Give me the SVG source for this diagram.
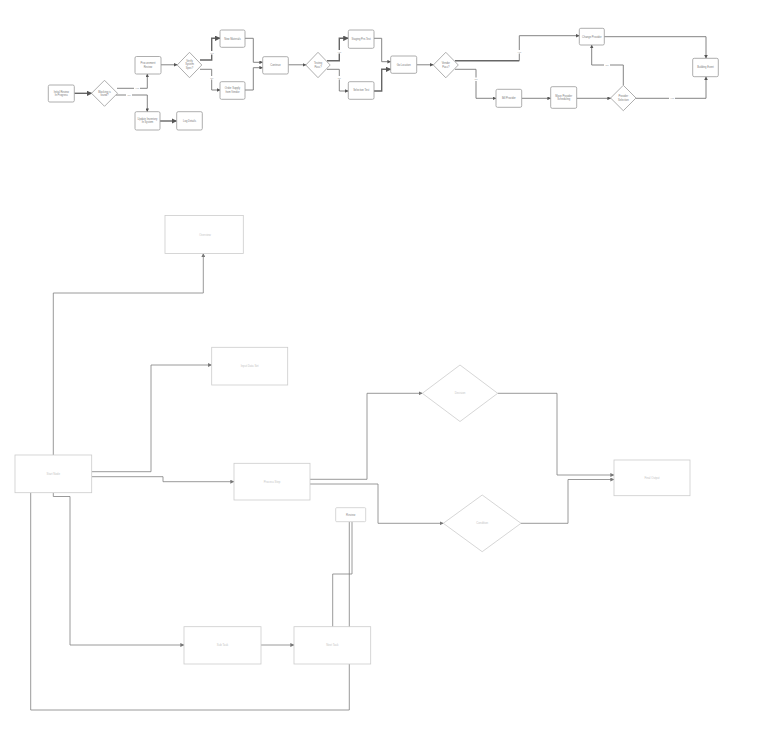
<svg xmlns="http://www.w3.org/2000/svg" width="768" height="736" viewBox="0 0 768 736">
<defs>
<marker id="a" viewBox="0 0 6 6" refX="5.5" refY="3" markerWidth="4" markerHeight="4" orient="auto"><path d="M0,0 L6,3 L0,6 z" fill="#555"/></marker>
<marker id="b" viewBox="0 0 6 6" refX="5.5" refY="3" markerWidth="5" markerHeight="5" orient="auto"><path d="M0,0 L6,3 L0,6 z" fill="#777"/></marker>
<style>
.n{fill:#fff;stroke:#999;stroke-width:0.8}
.t{font-family:"Liberation Sans",Arial,sans-serif;font-size:2.6px;fill:#777;text-anchor:middle}
.c{fill:none;stroke:#777;stroke-width:0.9}
.ck{fill:none;stroke:#666;stroke-width:1.4}
.el{font-family:"Liberation Sans",Arial,sans-serif;font-size:2.4px;fill:#999;text-anchor:middle}
.m{fill:#fff;stroke:#ccc;stroke-width:0.8}
.mt{font-family:"Liberation Sans",Arial,sans-serif;font-size:2.8px;fill:#c4c4c4;text-anchor:middle}
.mc{fill:none;stroke:#808080;stroke-width:0.8}
</style>
</defs>
<rect width="768" height="736" fill="#fff"/>

<g id="connectors">
<path class="ck" d="M74.3,93.3 H91.7" marker-end="url(#a)"/>
<path class="c" d="M117,88.3 H147.3 V74" marker-end="url(#a)"/>
<path class="c" d="M116,95 H147.3 V111.7" marker-end="url(#a)"/>
<path class="ck" d="M160,121 H176.7" marker-end="url(#a)"/>
<path class="c" d="M161,64.8 H177.3" marker-end="url(#a)"/>
<path class="ck" d="M200,60 H211.7 V38.3 H220" marker-end="url(#a)"/>
<path class="c" d="M200,69.3 H211.7 V90 H220" marker-end="url(#a)"/>
<path class="c" d="M245,38.3 H253.3 V62.3 H262.7" marker-end="url(#a)"/>
<path class="c" d="M245,90 H253.3 V67.7 H262.7" marker-end="url(#a)"/>
<path class="c" d="M288.3,64.8 H306" marker-end="url(#a)"/>
<path class="ck" d="M327,60.7 H339.3 V38.3 H348.3" marker-end="url(#a)"/>
<path class="c" d="M327,69.3 H339.3 V91 H348.3" marker-end="url(#a)"/>
<path class="c" d="M374,38.3 H381.7 V61.7 H390.7" marker-end="url(#a)"/>
<path class="ck" d="M374,91 H381.7 V69.3 H390.7" marker-end="url(#a)"/>
<path class="c" d="M416.7,64.8 H433.3" marker-end="url(#a)"/>
<path class="ck" d="M455,60.7 H519.3"/>
<path class="c" d="M519.3,60.7 V35.7 H579.3" marker-end="url(#a)"/>
<path class="c" d="M455,69.3 H476 V98.3 H496" marker-end="url(#a)"/>
<path class="c" d="M521.7,98.3 H550.7" marker-end="url(#a)"/>
<path class="c" d="M576.7,98.3 H610.7" marker-end="url(#a)"/>
<path class="c" d="M623.3,85 V65 H591.7 V45" marker-end="url(#a)"/>
<path class="c" d="M604,36.7 H706 V58.3" marker-end="url(#a)"/>
<path class="c" d="M636,98.3 H706 V76.7" marker-end="url(#a)"/>
<g>
<rect x="134" y="86" width="6" height="3.5" fill="#fff"/><text class="el" x="137" y="88.8">Yes</text>
<rect x="126" y="93.5" width="6" height="3.5" fill="#fff"/><text class="el" x="129" y="96.3">No</text>
<rect x="209" y="51" width="6" height="3.5" fill="#fff"/><text class="el" x="211.7" y="53.8">Yes</text>
<rect x="209" y="76" width="6" height="3.5" fill="#fff"/><text class="el" x="211.7" y="78.8">No</text>
<rect x="336.5" y="50" width="6" height="3.5" fill="#fff"/><text class="el" x="339.3" y="52.8">Yes</text>
<rect x="336.5" y="76" width="6" height="3.5" fill="#fff"/><text class="el" x="339.3" y="78.8">No</text>
<rect x="516.5" y="50" width="6" height="3.5" fill="#fff"/><text class="el" x="519.3" y="52.8">Yes</text>
<rect x="473" y="77.5" width="6" height="3.5" fill="#fff"/><text class="el" x="476" y="80.3">No</text>
<rect x="604" y="63.3" width="6" height="3.5" fill="#fff"/><text class="el" x="607" y="66.1">No</text>
<rect x="669" y="96.6" width="6" height="3.5" fill="#fff"/><text class="el" x="672" y="99.4">Yes</text>
</g>
<path class="mc" d="M53.3,455 V293 H203.3 V253.5" marker-end="url(#b)"/>
<path class="mc" d="M91.7,471.7 H151 V365 H211.7" marker-end="url(#b)"/>
<path class="mc" d="M91.7,476.7 H163 V481.7 H234" marker-end="url(#b)"/>
<path class="mc" d="M310,479.3 H367 V393.3 H422.3" marker-end="url(#b)"/>
<path class="mc" d="M310,484 H378 V523.3 H443.3" marker-end="url(#b)"/>
<path class="mc" d="M497.7,393.3 H557 V475 H614" marker-end="url(#b)"/>
<path class="mc" d="M521,523.3 H568 V479.5 H614" marker-end="url(#b)"/>
<path class="mc" d="M53.3,492.7 V496.5 H70 V645 H184" marker-end="url(#b)"/>
<path class="mc" d="M261,645 H294" marker-end="url(#b)"/>
<path class="mc" d="M332.7,626.7 V574 H352 V521.7"/>
<path class="mc" d="M30.7,492.7 V710 H349.3 V521.7"/>
</g>

<g id="n1"><rect class="n" x="48.3" y="85" width="26" height="17" rx="1.5"/><text class="t" x="61.3" y="92.5">Initial Review</text><text class="t" x="61.3" y="96.3">In Progress</text></g>
<g id="n2"><polygon class="n" points="104.5,80.3 117.5,93.3 104.5,106.3 91.5,93.3"/><text class="t" x="104.5" y="92.5">Blocking is</text><text class="t" x="104.5" y="96.3">found?</text></g>
<g id="n3"><rect class="n" x="135" y="56.5" width="26" height="17.5" rx="1.5"/><text class="t" x="148" y="64">Procurement</text><text class="t" x="148" y="67.8">Review</text></g>
<g id="n4"><rect class="n" x="135" y="111.7" width="25" height="18.3" rx="1.5"/><text class="t" x="147.5" y="119.5">Update Inventory</text><text class="t" x="147.5" y="123.3">In System</text></g>
<g id="n5"><rect class="n" x="176.7" y="111.7" width="25.6" height="18.3" rx="1.5"/><text class="t" x="189.5" y="121.8">Log Details</text></g>
<g id="n6"><polygon class="n" points="189.5,52.3 201.8,65 189.5,77.7 177.2,65"/><text class="t" x="189.5" y="61.6">Verify</text><text class="t" x="189.5" y="65.2">System</text><text class="t" x="189.5" y="68.8">Spec?</text></g>
<g id="n7"><rect class="n" x="220" y="30" width="25" height="17.3" rx="1.5"/><text class="t" x="232.5" y="39.6">New Materials</text></g>
<g id="n8"><rect class="n" x="220" y="81.7" width="25" height="17.6" rx="1.5"/><text class="t" x="232.5" y="89.3">Order Supply</text><text class="t" x="232.5" y="93.1">from Vendor</text></g>
<g id="n9"><rect class="n" x="262.7" y="56.7" width="25.6" height="17.3" rx="1.5"/><text class="t" x="275.5" y="66.2">Continue</text></g>
<g id="n10"><polygon class="n" points="318,52.3 330.2,65 318,77.7 305.8,65"/><text class="t" x="318" y="64">Testing</text><text class="t" x="318" y="67.8">Pass?</text></g>
<g id="n11"><rect class="n" x="348.3" y="30" width="25.7" height="18.3" rx="1.5"/><text class="t" x="361.2" y="40.1">Staging Pre-Test</text></g>
<g id="n12"><rect class="n" x="348.3" y="81.7" width="25.7" height="17.6" rx="1.5"/><text class="t" x="361.2" y="91.4">Selection Test</text></g>
<g id="n13"><rect class="n" x="390.7" y="56" width="26" height="17.3" rx="1.5"/><text class="t" x="403.7" y="65.6">Go Location</text></g>
<g id="n14"><polygon class="n" points="445.8,52.3 458.3,65 445.8,77.8 433.3,65"/><text class="t" x="445.8" y="64">Vendor</text><text class="t" x="445.8" y="67.8">Pass?</text></g>
<g id="n15"><rect class="n" x="579.3" y="28.3" width="25" height="16.7" rx="1.5"/><text class="t" x="591.8" y="37.5">Change Provider</text></g>
<g id="n16"><rect class="n" x="496" y="89.3" width="25.7" height="18" rx="1.5"/><text class="t" x="508.8" y="99.2">Bill Provider</text></g>
<g id="n17"><rect class="n" x="550.7" y="86.7" width="26" height="21.6" rx="1.5"/><text class="t" x="563.7" y="96.5">Move Provider</text><text class="t" x="563.7" y="100.3">Scheduling</text></g>
<g id="n18"><polygon class="n" points="623.3,85.3 636,98 623.3,110.7 610.6,98"/><text class="t" x="623.3" y="97">Provider</text><text class="t" x="623.3" y="100.8">Selection</text></g>
<g id="n19"><rect class="n" x="692.7" y="58.3" width="25.6" height="18.4" rx="1.5"/><text class="t" x="705.5" y="68.3">Building Event</text></g>

<g id="m1"><rect class="m" x="165" y="215.5" width="78.3" height="38"/><text class="mt" x="205" y="235.5">Overview</text></g>
<g id="m2"><rect class="m" x="15" y="455" width="76.7" height="37.7"/><text class="mt" x="53.3" y="474.8">Start Node</text></g>
<g id="m3"><rect class="m" x="211.7" y="347.3" width="76" height="37.7"/><text class="mt" x="249.7" y="367">Input Data Set</text></g>
<g id="m4"><rect class="m" x="234" y="463.3" width="76" height="36.7"/><text class="mt" x="272" y="482.5">Process Step</text></g>
<g id="m5"><polygon class="m" points="460,365 497.7,393.3 460,421.5 422.3,393.3"/><text class="mt" x="460" y="394.3">Decision</text></g>
<g id="m6"><polygon class="m" points="482.2,495 521,523.3 482.2,551.7 443.3,523.3"/><text class="mt" x="482.2" y="524.3">Condition</text></g>
<g id="m7"><rect class="m" x="614" y="460" width="76" height="35.7"/><text class="mt" x="652" y="478.8">Final Output</text></g>
<g id="m8"><rect class="m" x="184" y="626.7" width="77" height="37.3"/><text class="mt" x="222.5" y="646.3">Sub Task</text></g>
<g id="m9"><rect class="m" x="294" y="626.7" width="76.7" height="37.3"/><text class="mt" x="332.3" y="646.3">Next Task</text></g>
<g id="m10"><rect class="m" x="335.7" y="507.7" width="30" height="14" rx="1"/><text class="mt" x="350.7" y="515.6" style="fill:#888">Review</text></g>
</svg>
